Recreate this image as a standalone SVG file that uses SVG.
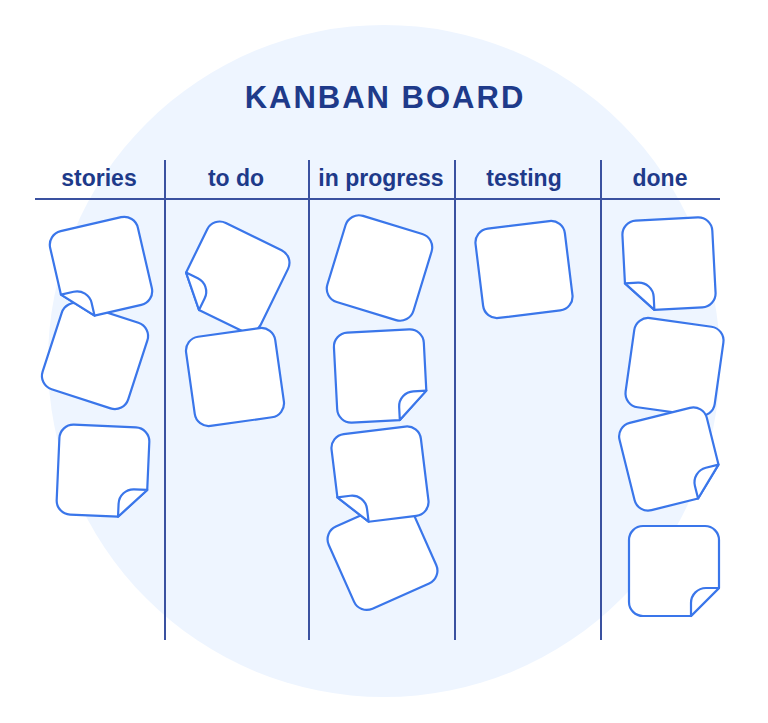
<svg xmlns="http://www.w3.org/2000/svg" xmlns:xlink="http://www.w3.org/1999/xlink" width="768" height="723" viewBox="0 0 768 723">
<style>
.bg{fill:#eef5ff}
.title{font-family:"Liberation Sans",Arial,sans-serif;font-weight:bold;font-size:31px;fill:#1e3a8a;letter-spacing:2px}
.col{font-family:"Liberation Sans",Arial,sans-serif;font-weight:bold;font-size:23px;fill:#1e3a8a}
.rule{stroke:#3a51a0;stroke-width:2;fill:none}
.note{fill:#ffffff;stroke:#3a76ea;stroke-width:2.2;stroke-linejoin:round}
</style>
<defs>
<g id="plain"><rect class="note" x="-45" y="-45" width="90" height="90" rx="14"/></g>
<g id="curlBR">
<path class="note" d="M-31,-45 H31 A14,14 0 0 1 45,-31 V17 L17,45 H-31 A14,14 0 0 1 -45,31 V-31 A14,14 0 0 1 -31,-45 Z"/>
<path class="note" d="M17,45 V32 A15,15 0 0 1 32,17 H45 Z"/>
</g>
<g id="curlBL">
<path class="note" d="M-31,-45 H31 A14,14 0 0 1 45,-31 V31 A14,14 0 0 1 31,45 H-17 L-45,17 V-31 A14,14 0 0 1 -31,-45 Z"/>
<path class="note" d="M-45,17 H-32 A15,15 0 0 1 -17,32 V45 Z"/>
</g>
</defs>
<circle class="bg" cx="384" cy="361" r="336"/>
<text class="title" x="385" y="108" text-anchor="middle">KANBAN BOARD</text>
<g id="board">
<line class="rule" x1="35" y1="199" x2="720" y2="199"/>
<line class="rule" x1="165" y1="160" x2="165" y2="640"/>
<line class="rule" x1="309" y1="160" x2="309" y2="640"/>
<line class="rule" x1="455" y1="160" x2="455" y2="640"/>
<line class="rule" x1="601" y1="160" x2="601" y2="640"/>
</g>
<g id="headers">
<text class="col" x="99" y="186" text-anchor="middle">stories</text>
<text class="col" x="236" y="186" text-anchor="middle">to do</text>
<text class="col" x="381" y="186" text-anchor="middle">in progress</text>
<text class="col" x="524" y="186" text-anchor="middle">testing</text>
<text class="col" x="660" y="186" text-anchor="middle">done</text>
</g>
<g id="stories-notes">
<use id="s2" xlink:href="#plain" transform="translate(95,356) rotate(18)"/>
<use id="s1" xlink:href="#curlBL" transform="translate(101,268) rotate(-13)"/>
<use id="s3" xlink:href="#curlBR" transform="translate(103,471) rotate(2.5)"/>
</g>
<g id="todo-notes">
<use id="t1" xlink:href="#curlBL" transform="translate(234,277) rotate(26)"/>
<use id="t2" xlink:href="#plain" transform="translate(235,377) rotate(-8)"/>
</g>
<g id="progress-notes">
<use id="p1" xlink:href="#plain" transform="translate(379.5,268) rotate(17)"/>
<use id="p2" xlink:href="#curlBR" transform="translate(380.5,376) rotate(-3)"/>
<use id="p4" xlink:href="#plain" transform="translate(382.5,555) rotate(-24)"/>
<use id="p3" xlink:href="#curlBL" transform="translate(380,475) rotate(-7)"/>
</g>
<g id="testing-notes">
<use id="te1" xlink:href="#plain" transform="translate(524,269.5) rotate(-7)"/>
</g>
<g id="done-notes">
<use id="d1" xlink:href="#curlBL" transform="translate(669,264) rotate(-3)"/>
<use id="d2" xlink:href="#plain" transform="translate(674.5,367) rotate(8)"/>
<use id="d3" xlink:href="#curlBR" transform="translate(670.7,459) rotate(-14)"/>
<use id="d4" xlink:href="#curlBR" transform="translate(674,571)"/>
</g>
</svg>
